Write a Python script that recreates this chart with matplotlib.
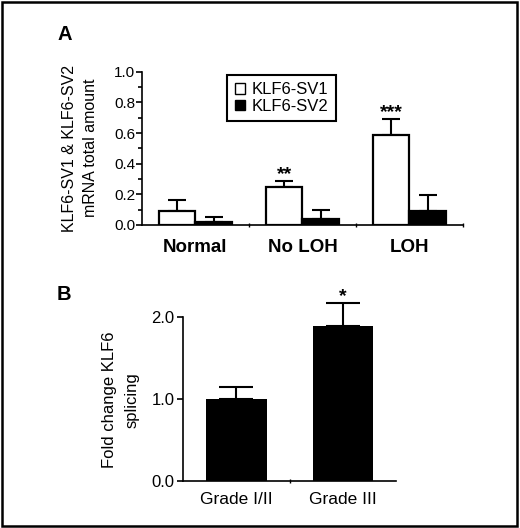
import numpy as np
import matplotlib
matplotlib.use('Agg')
import matplotlib.pyplot as plt
from matplotlib.patches import Patch, Rectangle

plt.rcParams['font.family'] = ['Liberation Sans', 'DejaVu Sans']

# Panel A data
groups_a = ['Normal', 'No LOH', 'LOH']
sv1_mean = [0.09, 0.25, 0.59]
sv1_err = [0.07, 0.035, 0.10]
sv2_mean = [0.02, 0.04, 0.09]
sv2_err = [0.035, 0.055, 0.105]
sv1_stars = ['', '**', '***']

# Panel B data
groups_b = ['Grade I/II', 'Grade III']
fold_mean = [1.0, 1.89]
fold_err = [0.15, 0.29]
fold_stars = ['', '*']

fig = plt.figure(figsize=(5.2, 5.28), dpi=100)

# ---- panel A ----
axA = fig.add_axes([0.273, 0.574, 0.617, 0.290])
pos = np.arange(len(groups_a))
w = 0.34
axA.bar(pos - w / 2, sv1_mean, w, color='white', edgecolor='black', linewidth=1.6, zorder=2)
axA.bar(pos + w / 2, sv2_mean, w, color='black', edgecolor='black', linewidth=1.6, zorder=2)
axA.errorbar(pos - w / 2, sv1_mean, yerr=[np.zeros(3), sv1_err], fmt='none',
             ecolor='black', elinewidth=1.5, capsize=6.5, capthick=1.5, zorder=1)
axA.errorbar(pos + w / 2, sv2_mean, yerr=[np.zeros(3), sv2_err], fmt='none',
             ecolor='black', elinewidth=1.5, capsize=6.5, capthick=1.5, zorder=1)
for x, m, e, s in zip(pos - w / 2, sv1_mean, sv1_err, sv1_stars):
    if s:
        axA.text(x, m + e - 0.01, s, ha='center', va='bottom', fontsize=14, fontweight='bold')

axA.set_xlim(-0.5, 2.5)
axA.set_ylim(0, 1.0)
axA.spines['top'].set_visible(False)
axA.spines['right'].set_visible(False)
axA.spines['left'].set_linewidth(1.2)
axA.spines['bottom'].set_linewidth(1.2)
axA.set_yticks(np.arange(0, 1.01, 0.2))
axA.set_yticks(np.arange(0.1, 1.0, 0.2), minor=True)
axA.set_yticklabels(['%.1f' % v for v in np.arange(0, 1.01, 0.2)], fontsize=11)
axA.tick_params(axis='y', which='major', length=4, width=1.2, pad=1)
axA.tick_params(axis='y', which='minor', length=3, width=1.2)
axA.set_xticks(pos)
axA.set_xticklabels(groups_a, fontsize=13.5, fontweight='bold')
axA.set_xticks([0.5, 1.5, 2.5], minor=True)
axA.tick_params(axis='x', which='major', length=0, pad=10)
axA.tick_params(axis='x', which='minor', length=3, width=1, direction='inout')

leg = axA.legend(handles=[Patch(facecolor='white', edgecolor='black', linewidth=1),
                          Patch(facecolor='black', edgecolor='black')],
                 labels=['KLF6-SV1', 'KLF6-SV2'],
                 loc='upper left', bbox_to_anchor=(0.24, 1.035), fontsize=12,
                 fancybox=False, edgecolor='black', framealpha=1,
                 handlelength=0.6, handleheight=0.6, handletextpad=0.4,
                 labelspacing=0.1, borderpad=0.45)
leg.get_frame().set_linewidth(1.5)

fig.text(80 / 520, 1 - 148 / 528, 'KLF6-SV1 & KLF6-SV2\nmRNA total amount',
         rotation=90, ha='center', va='center', fontsize=11.5, multialignment='center',
         linespacing=1.45)
fig.text(65 / 520, 1 - 34 / 528, 'A', ha='center', va='center', fontsize=14.5, fontweight='bold')

# ---- panel B ----
axB = fig.add_axes([0.352, 0.089, 0.410, 0.310])
posb = np.arange(len(groups_b))
axB.bar(posb, fold_mean, 0.57, color='black', zorder=2)
axB.errorbar(posb, fold_mean, yerr=[np.zeros(2), fold_err], fmt='none',
             ecolor='black', elinewidth=1.5, capsize=12, capthick=1.5, zorder=1, clip_on=False)
for x, m, e, s in zip(posb, fold_mean, fold_err, fold_stars):
    if s:
        axB.text(x, m + e - 0.03, s, ha='center', va='bottom', fontsize=14, fontweight='bold')

axB.set_xlim(-0.5, 1.5)
axB.set_ylim(0, 2.0)
axB.spines['top'].set_visible(False)
axB.spines['right'].set_visible(False)
axB.spines['left'].set_linewidth(1.2)
axB.spines['bottom'].set_linewidth(1.2)
axB.set_yticks([0, 1, 2])
axB.set_yticklabels(['0.0', '1.0', '2.0'], fontsize=12)
axB.tick_params(axis='y', length=4, width=1.2, pad=2)
axB.set_xticks(posb)
axB.set_xticklabels(groups_b, fontsize=12.5)
axB.set_xticks([0.5], minor=True)
axB.tick_params(axis='x', which='major', length=0, pad=8)
axB.tick_params(axis='x', which='minor', length=3, width=1, direction='inout')

fig.text(121 / 520, 1 - 400 / 528, 'Fold change KLF6\nsplicing',
         rotation=90, ha='center', va='center', fontsize=12, multialignment='center',
         linespacing=1.65)
fig.text(64 / 520, 1 - 295 / 528, 'B', ha='center', va='center', fontsize=14.5, fontweight='bold')

# frame around the whole figure
fig.patches.append(Rectangle((0.003, 0.004), 0.991, 0.993, transform=fig.transFigure,
                             fill=False, edgecolor='black', linewidth=1.8))

fig.savefig('out.png', dpi=100)
